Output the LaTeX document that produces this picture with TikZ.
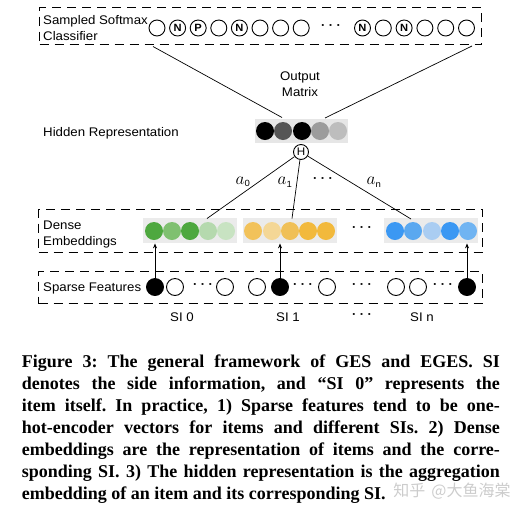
\documentclass[tikz,border=0pt]{standalone}
\usepackage{fontspec}
\newfontfamily\dsf[FakeStretch=1.06]{Liberation Sans}
\newfontfamily\capfont{Liberation Serif}
\newfontfamily\cjk{Noto Sans CJK SC}
\usetikzlibrary{arrows.meta}
\definecolor{boxgray}{HTML}{EBEBEB}
\definecolor{hidgray}{HTML}{E6E6E6}
\definecolor{hidb}{HTML}{555555}
\definecolor{hidd}{HTML}{9C9C9C}
\definecolor{hide}{HTML}{BDBDBD}
\definecolor{gA}{HTML}{4EA83F}
\definecolor{gB}{HTML}{7FC070}
\definecolor{gC}{HTML}{B5D9AE}
\definecolor{gD}{HTML}{C8E3C2}
\definecolor{yA}{HTML}{F2C25A}
\definecolor{yB}{HTML}{F4D796}
\definecolor{yC}{HTML}{F0C057}
\definecolor{yD}{HTML}{F2B93C}
\definecolor{bA}{HTML}{3B98F3}
\definecolor{bB}{HTML}{5AA8F0}
\definecolor{bC}{HTML}{AACDF2}
\definecolor{bD}{HTML}{70B4F2}
\newcommand\tdots{·\hspace{3.5pt}·\hspace{3.5pt}·}
\begin{document}
\begin{tikzpicture}[x=1pt,y=-1pt,
  lbl/.style={font=\dsf\fontsize{12.5}{16}\selectfont, inner sep=0, anchor=base west, align=left},
  clbl/.style={font=\dsf\fontsize{12.5}{16}\selectfont, inner sep=0, anchor=base, align=center},
  dotlbl/.style={font=\dsf\bfseries\fontsize{12}{14}\selectfont, inner sep=0},
  albl/.style={inner sep=0, font=\fontsize{16}{18}\selectfont},
  dbox/.style={draw, dash pattern=on 9pt off 6pt, line width=1pt, inner sep=0, anchor=north west},
  cir/.style={circle, draw, line width=0.9pt, minimum size=16pt, inner sep=0, fill=white,
    font=\dsf\bfseries\fontsize{10.5}{12}\selectfont},
  spc/.style={circle, draw, line width=0.9pt, minimum size=17pt, inner sep=0},
  emb/.style={circle, minimum size=18pt, inner sep=0},
  gbox/.style={fill=boxgray, inner sep=0, minimum width=94pt, minimum height=25pt, anchor=north west},
  conn/.style={line width=0.7pt},
  arr/.style={line width=1pt, -{Stealth[length=5pt,width=4pt]}}
]
\useasboundingbox (0,0) rectangle (521,512);

% dashed boxes
\node[dbox, minimum width=442pt, minimum height=37pt] (topbox) at (39,7) {};
\node[dbox, minimum width=444pt, minimum height=43pt] (densebox) at (38,209) {};
\node[dbox, minimum width=444pt, minimum height=32pt] (sparsebox) at (38,271) {};

% labels (base anchor = baseline of last line)
\node[lbl] (lsm) at (43,40) {Sampled Softmax\\Classifier};
\node[lbl] (lhid) at (43,136) {Hidden Representation};
\node[lbl] (lden) at (43,245) {Dense\\Embeddings};
\node[lbl] (lspa) at (43,291.5) {Sparse Features};
\node[clbl] (lout) at (300,96.5) {Output\\Matrix};

% top classifier circles
\foreach \x/\t [count=\i] in {157/,177.6/N,198.2/P,218.8/,239.4/N,260/,280.6/,301.2/}
  \node[cir] (tl\i) at (\x,28) {\t};
\node[dotlbl] (tdots) at (331,27) {\tdots};
\foreach \x/\t [count=\i] in {362.5/N,383.3/,404.1/N,424.9/,445.7/,466.5/}
  \node[cir] (tr\i) at (\x,28) {\t};

% hidden representation
\node[fill=hidgray, inner sep=0, minimum width=93pt, minimum height=24pt, anchor=north west] (hid) at (255,119) {};
\foreach \x/\c [count=\i] in {265/black,283/hidb,302/black,320/hidd,338/hide}
  \node[emb, fill=\c] (h\i) at (\x,131) {};
\node[circle, draw, line width=0.9pt, minimum size=15pt, inner sep=0, fill=white,
  font=\dsf\fontsize{11}{12}\selectfont] (H) at (301,152) {H};

% output matrix connectors
\coordinate (tla) at (153,46.5);
\coordinate (tlb) at (282,117.5);
\coordinate (tra) at (472,46);
\coordinate (trb) at (325,118);
\draw[conn] (tla) -- (tlb);
\draw[conn] (tra) -- (trb);

% dense embeddings
\node[gbox] (green) at (143,218) {};
\node[gbox] (yellow) at (243,218) {};
\node[gbox] (blue) at (384,218) {};
\foreach \x/\c [count=\i] in {154/gA,172/gB,190/gA,208/gC,226/gD}
  \node[emb, fill=\c] (g\i) at (\x,231) {};
\foreach \x/\c [count=\i] in {253/yA,272/yB,290/yC,308/yD,326/yD}
  \node[emb, fill=\c] (y\i) at (\x,231) {};
\foreach \x/\c [count=\i] in {395/bA,413/bB,432/bC,450/bA,468/bD}
  \node[emb, fill=\c] (b\i) at (\x,231) {};
\node[dotlbl] (ddots) at (362,229) {\tdots};

% attention connectors
\coordinate (ga) at (207,218.5);
\coordinate (ya) at (292,218.5);
\coordinate (ba) at (411,219);
\draw[conn] (H) -- (ga);
\draw[conn] (H) -- (ya);
\draw[conn] (H) -- (ba);
\node[albl] (a0) at (243,182) {$a_{\mbox{\dsf\fontsize{9}{10}\selectfont 0}}$};
\node[albl] (a1) at (285,182) {$a_{\mbox{\dsf\fontsize{9}{10}\selectfont 1}}$};
\node[dotlbl] (adots) at (323,180) {\tdots};
\node[albl] (an) at (374,182) {$a_{\mbox{\dsf\fontsize{9}{10}\selectfont n}}$};

% sparse features
\node[spc, fill=black] (s1) at (155,287) {};
\node[spc] (s2) at (175,287) {};
\node[dotlbl] (sd1) at (203,286) {\tdots};
\node[spc] (s3) at (225,287) {};
\node[spc] (s4) at (257,287) {};
\node[spc, fill=black] (s5) at (280,287) {};
\node[dotlbl] (sd2) at (303,286) {\tdots};
\node[spc] (s6) at (327,287) {};
\node[dotlbl] (sd3) at (362,286) {\tdots};
\node[spc] (s7) at (396,287) {};
\node[spc] (s8) at (418,287) {};
\node[dotlbl] (sd4) at (443,286) {\tdots};
\node[spc, fill=black] (s9) at (467,287) {};

\draw[arr] (s1) -- (s1 |- green.south);
\draw[arr] (s5) -- (s5 |- yellow.south);
\draw[arr] (s9) -- (s9 |- blue.south);

% SI labels
\node[clbl] (si0) at (182,321.5) {SI 0};
\node[clbl] (si1) at (288,321.5) {SI 1};
\node[dotlbl] (sidots) at (362,316) {\tdots};
\node[clbl] (sin) at (422,321.5) {SI n};

% caption
\node[anchor=base west, inner sep=0, text width=478pt, align=justify,
  font=\capfont\bfseries\fontsize{18}{22}\selectfont] (cap) at (21.7,367)
  {\frenchspacing\hyphenpenalty=10000 Figure 3: The general framework of GES and EGES. SI \linebreak
   denotes the side information, and “SI 0” represents the \linebreak
   item itself. In practice, 1) Sparse features tend to be one-\linebreak
   hot-encoder vectors for items and different SIs. 2) Dense \linebreak
   embeddings are the representation of items and the corre-\linebreak
   sponding SI. 3) The hidden representation is the aggregation \linebreak
   embedding of an item and its corresponding SI.};

% watermark
\node[inner sep=0, font=\cjk\fontsize{16}{16}\selectfont, text=black!22, opacity=0.9] (wm) at (452,491) {知乎\hspace{6pt}@大鱼海棠};
\end{tikzpicture}
\end{document}
